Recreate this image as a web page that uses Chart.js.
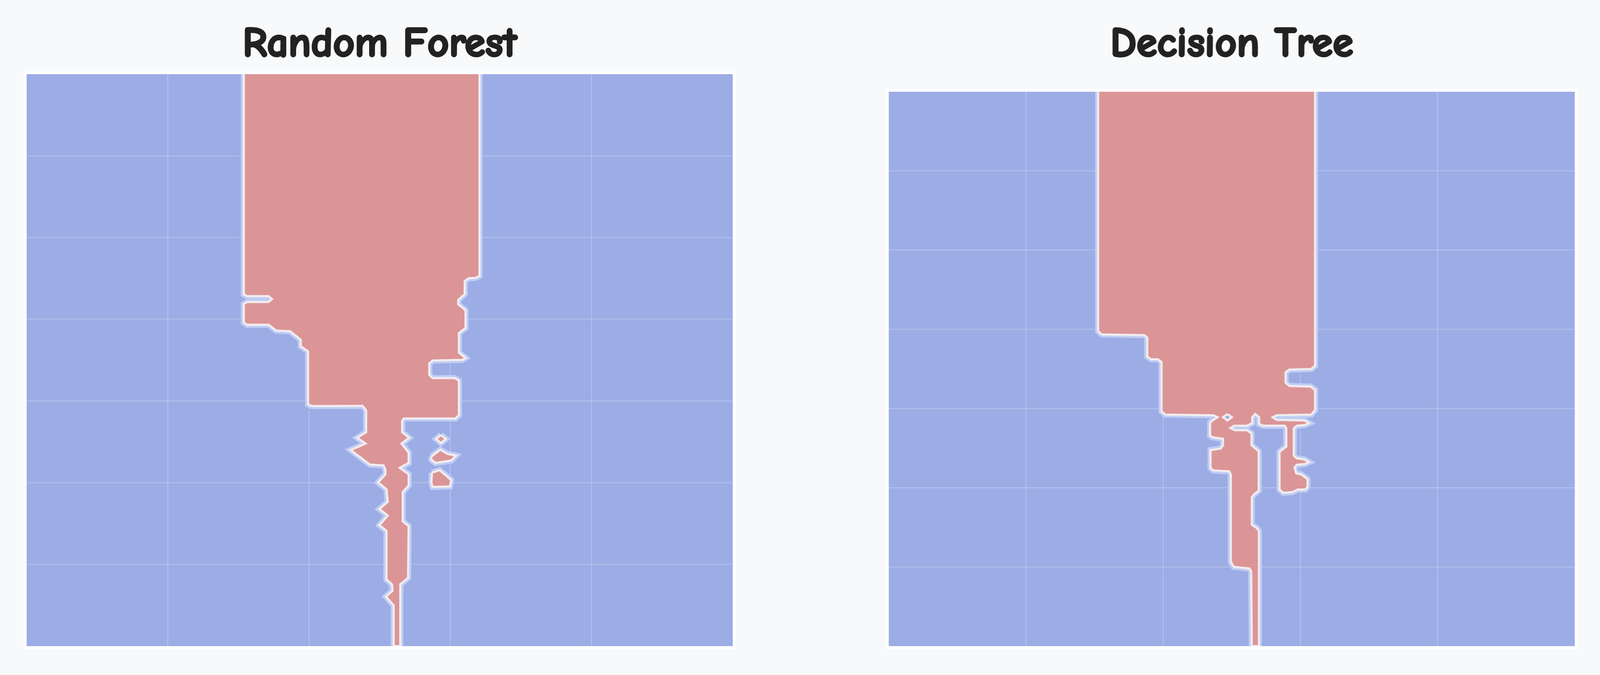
<!DOCTYPE html>
<html>
<head>
<meta charset="utf-8">
<script src="https://cdn.jsdelivr.net/npm/chart.js@4/dist/chart.umd.min.js"></script>
<style>
  html, body { margin: 0; padding: 0; background: #f8f9fa; width: 100%; height: 100%; overflow: hidden; }
  .panel { position: absolute; }
</style>
</head>
<body>
<div class="panel" id="forestBox"><canvas id="forestChart"></canvas></div>
<div class="panel" id="treeBox"><canvas id="treeChart"></canvas></div>
<script>
// === decision regions (x 0-50, y 0-70) ===

const xTicks = [0, 10, 20, 30, 40, 50];
const yTicks = [0, 10, 20, 30, 40, 50, 60, 70];

// Random Forest: red class region
const forestRegion = [
  [15.38, 70], [15.38, 43.05], [15.6, 42.84], [17.13, 42.84], [17.37, 42.48], [17.13, 42.12], [15.6, 42.12],
  [15.38, 41.85], [15.38, 39.6], [15.6, 39.33], [17.13, 39.33], [17.66, 38.62], [18.65, 38.54], [19.41, 37.5],
  [19.41, 36.7], [19.93, 36.07], [19.93, 29.6], [20.2, 29.38], [23.79, 29.4], [24.04, 28.85], [24.04, 26.18],
  [23.41, 25.49], [24.0, 24.79], [22.94, 24.0], [24.3, 22.22], [25.27, 22.12], [25.4, 21.6], [25.4, 21.0],
  [24.89, 20.04], [25.48, 19.2], [25.57, 17.66], [24.98, 16.77], [25.57, 15.98], [24.98, 14.79], [25.48, 14.1],
  [25.48, 8.15], [25.87, 7.56], [25.91, 6.77], [25.44, 6.07], [25.99, 4.98], [25.99, 0], [26.46, 0],
  [26.46, 7.56], [27.01, 8.35], [27.05, 14.69], [26.63, 15.28], [26.63, 18.85], [27.05, 19.64], [27.05, 21.03],
  [26.42, 21.82], [27.05, 22.42], [27.05, 23.7], [26.54, 24.79], [27.09, 25.49], [26.59, 26.18], [26.59, 27.57],
  [26.71, 27.86], [30.36, 27.86], [30.61, 28.26], [30.61, 32.5], [30.32, 32.8], [28.75, 32.8], [28.51, 33.2],
  [28.51, 34.6], [28.75, 34.95], [30.85, 35.03], [31.08, 35.27], [30.61, 35.91], [30.61, 38.3], [31.08, 38.93],
  [31.08, 41.1], [30.56, 41.85], [30.56, 42.36], [31.02, 43.08], [31.02, 44.67], [31.31, 45.02], [31.78, 45.07],
  [32.07, 45.3], [32.07, 70]
];
const forestIslandA = [[29.34, 25.85], [29.68, 25.35], [29.34, 24.85], [29.0, 25.35], [29.34, 25.85]];
const forestIslandB = [[28.66, 23.21], [29.3, 24.04], [29.81, 23.51], [30.4, 23.31], [30.06, 22.71], [28.96, 22.42], [28.66, 22.81], [28.66, 23.21]];
const forestIslandC = [[28.7, 21.23], [29.25, 21.53], [30.06, 20.34], [29.98, 19.54], [28.75, 19.48], [28.66, 20.04], [28.7, 21.23]];

// Decision Tree: red class region
const treeRegion = [
  [15.26, 70], [15.26, 39.76], [15.53, 39.35], [18.62, 39.27], [18.84, 38.94], [18.84, 36.55], [19.11, 36.22],
  [19.61, 36.22], [19.88, 35.89], [19.88, 29.64], [20.16, 29.23], [23.68, 29.15], [23.96, 28.9], [23.55, 28.45],
  [23.42, 28.2], [23.42, 26.6], [23.58, 26.38], [24.36, 26.17], [24.36, 25.36], [24.19, 24.95], [23.45, 24.74],
  [23.45, 22.49], [23.66, 22.18], [24.8, 22.08], [24.93, 21.67], [24.93, 10.62], [25.15, 10.01], [26.28, 9.8],
  [26.41, 9.5], [26.46, 0], [26.98, 0], [26.98, 14.51], [26.81, 14.92], [26.46, 15.33], [26.46, 18.81],
  [26.67, 19.22], [26.96, 19.63], [26.96, 24.6], [26.44, 25.37], [26.44, 26.85], [26.11, 27.26], [25.23, 27.26],
  [24.9, 27.54], [25.17, 27.83], [26.11, 27.83], [26.49, 28.16], [26.49, 28.9], [26.71, 29.31], [26.99, 28.9],
  [26.99, 28.08], [27.27, 27.83], [28.86, 27.83], [28.97, 27.5], [28.97, 25.2], [28.48, 24.54], [28.48, 19.77],
  [28.75, 19.36], [29.41, 19.44], [29.8, 19.77], [30.35, 19.77], [30.52, 20.1], [30.52, 21.09], [30.08, 21.66],
  [29.69, 21.83], [29.58, 22.57], [29.74, 22.9], [30.3, 22.98], [30.63, 23.23], [30.3, 23.56], [29.74, 23.72],
  [29.52, 24.05], [29.52, 27.5], [29.74, 27.83], [30.3, 27.91], [30.63, 28.16], [30.3, 28.49], [28.26, 28.57],
  [27.98, 28.9], [28.26, 29.15], [30.79, 29.23], [31.07, 29.81], [31.07, 32.36], [30.74, 32.77], [29.19, 32.85],
  [28.92, 33.26], [28.92, 34.58], [29.19, 34.91], [30.79, 34.99], [31.07, 35.4], [31.07, 70]
];
// small blue hole inside the red region
const treeHole = [[24.68, 29.3], [25.0, 28.9], [24.68, 28.5], [24.36, 28.9], [24.68, 29.3]];

const BLUE = '#9cace5';
const RED = '#db9597';
const EDGE = '#f2ecee';
const HALO = '#bfcdf5';

// the reference was laid out on a 4457 x 1729 page; scale to the real viewport
const sx = window.innerWidth / 4457;
const sy = window.innerHeight / 1729;
const s = Math.min(sx, sy);

function place(id, left, top, width, height) {
    const el = document.getElementById(id);
    el.style.left = (left * sx) + 'px';
    el.style.top = (top * sy) + 'px';
    el.style.width = (width * sx) + 'px';
    el.style.height = (height * sy) + 'px';
}
place('forestBox', 64, 0, 1987, 1665);
place('treeBox', 2466, 0, 1930, 1665);

function toXY(list) {
    return list.map(p => ({ x: p[0], y: p[1] }));
}

// halo + filled region for one red area
function regionSets(list) {
    return [
        { data: toXY(list), borderColor: HALO, borderWidth: 17 * s, fill: false, order: 2 },
        { data: toXY(list), borderColor: EDGE, borderWidth: 6 * s, backgroundColor: RED, fill: 'shape', order: 1 }
    ];
}

function holeSet(list) {
    return { data: toXY(list), borderColor: EDGE, borderWidth: 6 * s, backgroundColor: BLUE, fill: 'shape', order: 0 };
}

const plotBackground = {
    id: 'plotBackground',
    beforeDraw(chart) {
        const { ctx, chartArea: a } = chart;
        const f = 8 * s;
        ctx.save();
        ctx.fillStyle = '#ffffff';
        ctx.fillRect(a.left - f, a.top - f, a.width + 2 * f, a.height + 2 * f);
        ctx.fillStyle = BLUE;
        ctx.fillRect(a.left, a.top, a.width, a.height);
        ctx.restore();
    }
};

// comic titles are heavy: thicken the library's title with a stroke
const heavyTitle = {
    id: 'heavyTitle',
    afterDraw(chart) {
        const tb = chart.titleBlock;
        if (!tb) return;
        const o = tb.options;
        const font = Chart.helpers.toFont(o.font);
        const pad = Chart.helpers.toPadding(o.padding);
        const ctx = chart.ctx;
        ctx.save();
        ctx.font = font.string;
        ctx.textAlign = 'center';
        ctx.textBaseline = 'middle';
        ctx.lineJoin = 'round';
        ctx.lineWidth = 5 * s;
        ctx.strokeStyle = o.color;
        ctx.strokeText(o.text, (tb.left + tb.right) / 2, tb.top + pad.top + font.lineHeight / 2);
        ctx.restore();
    }
};

function gridColor(c) {
    const sc = c.scale;
    if (!c.tick || c.tick.value === sc.min || c.tick.value === sc.max) return 'rgba(0,0,0,0)';
    return 'rgba(255,255,255,0.22)';
}

function makeChart(id, title, datasets, padTop, padBottom) {
    new Chart(document.getElementById(id), {
        type: 'line',
        data: { datasets },
        options: {
            responsive: true,
            maintainAspectRatio: false,
            animation: false,
            layout: { padding: { left: 10 * sx, right: 10 * sx, bottom: 10 * sy, top: 0 } },
            datasets: { line: { pointRadius: 0, tension: 0, clip: 0, borderJoinStyle: 'miter' } },
            plugins: {
                legend: { display: false },
                tooltip: { enabled: false },
                title: {
                    display: true,
                    text: title,
                    color: '#222222',
                    font: { family: '"Comic Sans MS", "Comic Neue", Lato, sans-serif', size: 112 * Math.sqrt(sx * sy), weight: 'bold', lineHeight: 1.2 },
                    padding: { top: padTop * sy, bottom: padBottom * sy }
                }
            },
            scales: {
                x: {
                    type: 'linear', min: 0, max: 50, z: 1,
                    afterBuildTicks: sc => { sc.ticks = xTicks.map(v => ({ value: v })); },
                    ticks: { display: false },
                    grid: { drawTicks: false, color: gridColor, lineWidth: 3 * s },
                    border: { display: false }
                },
                y: {
                    type: 'linear', min: 0, max: 70, z: 1,
                    afterBuildTicks: sc => { sc.ticks = yTicks.map(v => ({ value: v })); },
                    ticks: { display: false },
                    grid: { drawTicks: false, color: gridColor, lineWidth: 3 * s },
                    border: { display: false }
                }
            }
        },
        plugins: [plotBackground, heavyTitle]
    });
}

// title box: top pad + line height + bottom pad = plot top (190 and 235 on the reference)
const titleLine = 1.2 * 112 * Math.sqrt(sx * sy) / sy;
makeChart('forestChart', 'Random Forest', [
    ...regionSets(forestRegion),
    ...regionSets(forestIslandA),
    ...regionSets(forestIslandB),
    ...regionSets(forestIslandC)
], 114 - titleLine / 2, 190 - 114 - titleLine / 2);

makeChart('treeChart', 'Decision Tree', [
    ...regionSets(treeRegion),
    holeSet(treeHole)
], 114 - titleLine / 2, 235 - 114 - titleLine / 2);
</script>
</body>
</html>
